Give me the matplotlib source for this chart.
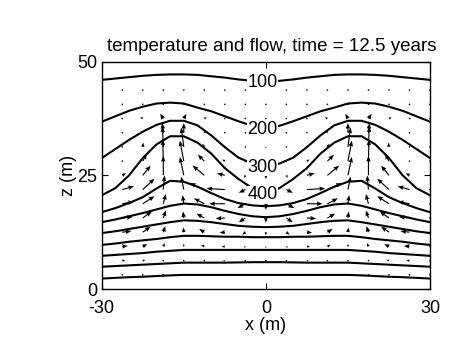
import numpy as np
import matplotlib
matplotlib.use("Agg")
import matplotlib.pyplot as plt

plt.rcParams['font.family'] = ['Liberation Sans', 'DejaVu Sans']
plt.rcParams['axes.unicode_minus'] = False

# contour lines, left half of the domain (x = -30 .. 0), mirrored about x = 0
x_line = [-30, -27.5, -25, -22.5, -20, -17.5, -15, -12.5, -10, -7.5, -5, -2.5, 0]
levels = [100, 200, 300, 400, 500, 600, 700, 800, 900, 1000, 1100]
labelled = [100, 200, 300, 400]
z_100 = [46.0, 46.3, 46.6, 46.9, 47.1, 47.2, 47.2, 47.1, 46.8, 46.5, 46.1, 45.8, 45.7]
z_200 = [36.8, 38.0, 39.2, 40.1, 40.8, 41.0, 40.8, 39.9, 39.1, 38.0, 36.9, 35.9, 35.3]
z_300 = [28.8, 30.8, 32.8, 34.6, 36.1, 37.0, 37.0, 36.0, 33.8, 31.2, 28.9, 27.6, 27.0]
z_400 = [20.6, 22.2, 25.0, 28.8, 31.8, 33.6, 33.6, 32.2, 29.8, 26.6, 24.2, 22.2, 21.0]
z_500 = [16.9, 17.8, 18.9, 20.2, 22.1, 23.8, 23.6, 22.5, 21.1, 19.8, 18.9, 18.4, 18.2]
z_600 = [14.7, 15.3, 16.0, 16.7, 17.5, 18.3, 18.8, 18.6, 18.0, 17.2, 16.5, 16.0, 15.8]
z_700 = [12.3, 12.7, 13.2, 13.7, 14.2, 14.7, 15.1, 15.0, 14.7, 14.3, 13.9, 13.7, 13.6]
z_800 = [9.7, 10.0, 10.4, 10.7, 11.0, 11.4, 11.7, 11.7, 11.6, 11.5, 11.5, 11.4, 11.4]
z_900 = [7.3, 7.5, 7.7, 7.9, 8.2, 8.4, 8.6, 8.6, 8.6, 8.6, 8.6, 8.6, 8.6]
z_1000 = [4.9, 5.05, 5.2, 5.35, 5.5, 5.65, 5.8, 5.8, 5.8, 5.8, 5.85, 5.9, 5.9]
z_1100 = [2.3, 2.45, 2.6, 2.7, 2.85, 3.0, 3.1, 3.1, 3.1, 3.1, 3.1, 3.1, 3.1]
lines = [z_100, z_200, z_300, z_400, z_500, z_600, z_700, z_800, z_900, z_1000, z_1100]

# flow field, left half columns and rows (top to bottom)
x_arrow = [-30, -26.25, -22.5, -18.75, -15, -11.25, -7.5, -3.75, 0]
z_arrow = [43.75, 40.625, 37.5, 34.375, 31.25, 28.125, 25.0, 21.875,
           18.75, 15.625, 12.5, 9.375, 6.25, 3.125]
u_rows = [
    [0, 0, 0, 0, 0, 0, 0, 0, 0],
    [0, -0.02, -0.03, -0.03, 0.02, 0.03, 0.02, 0.01, 0],
    [0, -0.04, -0.1, -0.12, 0.1, 0.1, 0.04, 0.01, 0],
    [0, -0.06, -0.05, -0.04, 0.0, 0.05, 0.03, 0.0, 0],
    [0, -0.05, 0.02, -0.03, -0.1, -0.08, 0.0, 0.0, 0],
    [0, 0.02, 0.15, -0.02, -0.15, -0.25, -0.1, -0.02, 0],
    [0, 0.15, 0.3, 0.0, -0.15, -0.45, -0.3, -0.05, 0],
    [0, 0.45, 0.45, 0.05, -0.1, -0.55, -0.7, -0.25, 0],
    [0, 0.45, 0.45, 0.1, -0.05, -0.4, -0.6, -0.3, 0],
    [0, 0.4, 0.35, 0.1, -0.03, -0.3, -0.35, -0.25, 0],
    [0, 0.35, 0.3, 0.08, -0.02, -0.2, -0.2, -0.12, 0],
    [0, 0.22, 0.18, 0.06, 0, -0.12, -0.12, -0.06, 0],
    [0, 0.12, 0.1, 0.03, 0, -0.06, -0.07, -0.03, 0],
    [0, 0.06, 0.05, 0.02, 0, -0.03, -0.04, -0.02, 0],
]
w_rows = [
    [0, 0.02, 0.02, 0.03, 0.03, 0.02, 0.01, 0, -0.01],
    [0, 0.01, 0.04, 0.07, 0.07, 0.04, 0.01, -0.01, -0.02],
    [0, 0.0, 0.06, 0.22, 0.22, 0.06, 0.0, -0.03, -0.04],
    [-0.02, 0.0, 0.08, 0.45, 0.45, 0.12, 0.0, -0.05, -0.06],
    [-0.03, -0.03, 0.2, 0.95, 0.9, 0.15, 0.0, -0.06, -0.08],
    [-0.04, 0.02, 0.35, 1.0, 0.95, 0.3, 0.08, -0.08, -0.12],
    [-0.05, 0.1, 0.45, 0.9, 0.85, 0.45, 0.1, -0.12, -0.18],
    [-0.05, 0.15, 0.5, 0.65, 0.6, 0.3, 0.05, -0.15, -0.25],
    [-0.05, 0.1, 0.35, 0.45, 0.4, 0.25, 0.0, -0.2, -0.28],
    [-0.04, 0.05, 0.3, 0.35, 0.3, 0.2, -0.03, -0.2, -0.22],
    [-0.03, 0.05, 0.25, 0.28, 0.22, 0.15, -0.03, -0.12, -0.15],
    [-0.02, 0.02, 0.1, 0.15, 0.12, 0.06, -0.02, -0.06, -0.08],
    [0, 0, 0.03, 0.05, 0.04, 0.02, 0, -0.02, -0.03],
    [0, 0, 0, 0.01, 0.01, 0, 0, 0, 0],
]

# mirror the left half onto the right half
xl = np.array(x_line)
x_full = np.concatenate([xl, -xl[-2::-1]])
xa = np.array(x_arrow)
xq_1d = np.concatenate([xa, -xa[-2::-1]])
U = np.array(u_rows)
W = np.array(w_rows)
U = np.hstack([U, -U[:, -2::-1]])
W = np.hstack([W, W[:, -2::-1]])
XQ, ZQ = np.meshgrid(xq_1d, z_arrow)

fig = plt.figure(figsize=(4.74, 3.55), dpi=100)
ax = fig.add_axes([0.2146, 0.1859, 0.6926, 0.6403])

for lev, zl in zip(levels, lines):
    zl = np.array(zl)
    z_full = np.concatenate([zl, zl[-2::-1]])
    ax.plot(x_full, z_full, color='k', lw=1.5, zorder=2)
    if lev in labelled:
        ax.text(-0.6, zl[-1] - 0.2, str(lev), ha='center', va='center',
                fontsize=13, zorder=4,
                bbox=dict(facecolor='white', edgecolor='none', pad=0.2))

ax.quiver(XQ, ZQ, U, W, angles='xy', scale_units='xy', scale=0.21,
          color='k', width=0.0035, headwidth=4, headlength=5,
          headaxislength=4.5, minlength=1.5, zorder=3)

ax.set_xlim(-30, 30)
ax.set_ylim(0, 50)
ax.set_xticks([-30, 0, 30])
ax.set_yticks([0, 25, 50])
ax.tick_params(direction='in', top=True, right=True, length=4,
               labelsize=13, width=0.8)
ax.tick_params(axis='x', pad=8)
ax.tick_params(axis='y', pad=3)
for s in ax.spines.values():
    s.set_linewidth(1.0)
ax.set_xlabel('x (m)', fontsize=13, labelpad=0)
ax.set_ylabel('z (m)', fontsize=13, labelpad=0)
ax.set_title('temperature and flow, time = 12.5 years', fontsize=13.5,
             pad=8, x=0.518)

fig.savefig('out.png', dpi=100)
